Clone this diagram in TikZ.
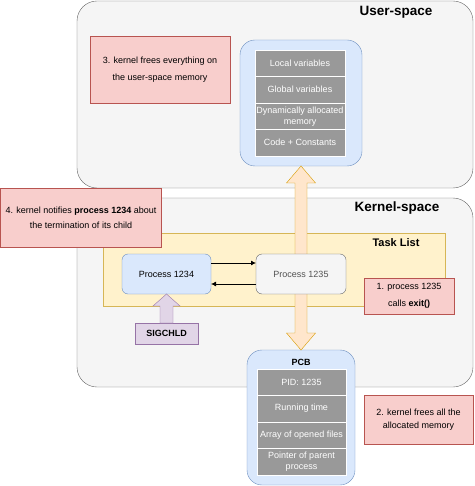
\documentclass[tikz,border=0pt]{standalone}
\usepackage{fontspec}
\setmainfont{Liberation Sans}
\usetikzlibrary{positioning,calc,arrows.meta}
\definecolor{rozfond}{HTML}{F8CECC}
\definecolor{rozlinie}{HTML}{B85450}
\definecolor{albfond}{HTML}{DAE8FC}
\definecolor{albalinie}{HTML}{6C8EBF}
\definecolor{galfond}{HTML}{FFF2CC}
\definecolor{gallinie}{HTML}{D6B656}
\definecolor{movfond}{HTML}{E1D5E7}
\definecolor{movlinie}{HTML}{9673A6}
\definecolor{grifond}{HTML}{F5F5F5}
\definecolor{grilinie}{HTML}{666666}
\definecolor{portfond}{HTML}{FFE6CC}
\definecolor{portlinie}{HTML}{D79B00}
\definecolor{celgri}{HTML}{999999}
\tikzset{
  spatiu/.style  = {draw=grilinie, fill=grifond, rounded corners=20pt, inner sep=0pt, outer sep=0pt},
  titlu/.style   = {font=\fontsize{13.5}{15}\selectfont\bfseries, inner sep=0pt},
  nota/.style    = {draw=rozlinie, fill=rozfond, align=center, inner sep=0pt, outer sep=0pt,
                    font=\fontsize{9}{17}\selectfont},
  proces/.style  = {draw, rounded corners=6pt, minimum width=89pt, minimum height=40pt,
                    inner sep=0pt, outer sep=0pt, font=\fontsize{9}{11}\selectfont},
  memorie/.style = {draw=albalinie, fill=albfond, rounded corners=15pt, inner sep=0pt, outer sep=0pt},
  celula/.style  = {draw=white, fill=celgri, text=white, align=center, minimum width=90pt,
                    minimum height=26.5pt, inner sep=0pt, outer sep=0pt,
                    font=\fontsize{9}{11}\selectfont},
  sageata/.style = {-{Latex[length=5pt,width=5pt]}, thick}
}
% sageata bloc: (de la) (la) semilatime corp, semilatime varf, stil
\newcommand{\sagsimpla}[5]{%
  \path[#5] let \p1=(#1), \p2=(#2) in
    (\x1-#3,\y1) -- (\x1-#3,\y2-12pt) -- (\x1-#4,\y2-12pt) -- (\x2,\y2)
    -- (\x1+#4,\y2-12pt) -- (\x1+#3,\y2-12pt) -- (\x1+#3,\y1) -- cycle;}
\begin{document}
\begin{tikzpicture}[x=1pt, y=-1pt]
  \useasboundingbox (0,0) rectangle (474,486);

  % cele doua spatii
  \node[spatiu, minimum width=396pt, minimum height=187pt] (user) at (275,94.5) {};
  \node[titlu] (usertitlu) at (396,12) {User-space};
  \node[spatiu, minimum width=396pt, minimum height=189pt] (kernel) at (275,292.5) {};
  \node[titlu] (kerneltitlu) at (397,208) {Kernel-space};

  % lista de procese
  \node[draw=gallinie, fill=galfond, minimum width=342pt, minimum height=73pt, inner sep=0pt] (lista) at (274,269.5) {};
  \node[font=\fontsize{11}{13}\selectfont\bfseries, inner sep=0pt] (listatitlu) at (396,243) {Task List};

  % memoria din user-space
  \node[memorie, minimum width=122pt, minimum height=126pt] (mem) at (301,103) {};
  \node[celula] (mem1) at (300,63.25) {Local variables};
  \node[celula, below=0pt of mem1] (mem2) {Global variables};
  \node[celula, below=0pt of mem2] (mem3) {Dynamically allocated\\memory};
  \node[celula, below=0pt of mem3] (mem4) {Code + Constants};

  % PCB
  \node[memorie, minimum width=108pt, minimum height=135pt] (pcb) at (301,417.5) {};
  \node[font=\fontsize{9}{11}\selectfont\bfseries, inner sep=0pt] (pcbtitlu) at (301,362) {PCB};
  \node[celula, minimum width=89pt] (pcb1) at (301.5,382) {PID: 1235};
  \node[celula, minimum width=89pt, below=0pt of pcb1] (pcb2) {Running time};
  \node[celula, minimum width=89pt, below=0pt of pcb2] (pcb3) {Array of opened files};
  \node[celula, minimum width=89pt, below=0pt of pcb3] (pcb4) {Pointer of parent\\process};

  % sageata dubla intre memorie si PCB
  \path[draw=portlinie, fill=portfond]
    (mem.south) -- ([xshift=14.5pt,yshift=-17pt]mem.south) -- ([xshift=6pt,yshift=-17pt]mem.south)
    -- ([xshift=6pt,yshift=17pt]pcb.north) -- ([xshift=14.5pt,yshift=17pt]pcb.north) -- (pcb.north)
    -- ([xshift=-14.5pt,yshift=17pt]pcb.north) -- ([xshift=-6pt,yshift=17pt]pcb.north)
    -- ([xshift=-6pt,yshift=-17pt]mem.south) -- ([xshift=-14.5pt,yshift=-17pt]mem.south) -- cycle;

  % procese
  \node[proces, draw=albalinie, fill=albfond] (p1234) at (166.5,274) {Process 1234};
  \node[proces, draw=grilinie, fill=grifond, text=grilinie!80!black, minimum width=90pt] (p1235) at (301,274) {Process 1235};
  \draw[sageata] ([yshift=11pt]p1234.east) -- ([yshift=11pt]p1235.west);
  \draw[sageata] ([yshift=-10pt]p1235.west) -- ([yshift=-10pt]p1234.east);

  % semnal
  \node[draw=movlinie, fill=movfond, minimum width=63pt, minimum height=21pt, inner sep=0pt, outer sep=0pt,
        font=\fontsize{9}{11}\selectfont\bfseries] (sig) at (166.5,333.5) {SIGCHLD};
  \sagsimpla{sig.north}{p1234.south}{6.5pt}{13.5pt}{draw=movlinie, fill=movfond}

  % pasii
  \node[nota, minimum width=90pt, minimum height=36pt] (pas1) at (409,296) {1. process 1235\\calls \textbf{exit()}};
  \node[nota, minimum width=109pt, minimum height=49pt, font=\fontsize{9}{13}\selectfont] (pas2) at (418.5,419.5) {2. kernel frees all the\\allocated memory};
  \node[nota, minimum width=140pt, minimum height=67pt] (pas3) at (160,69.5) {3. kernel frees everything on\\the user-space memory};
  \node[nota, minimum width=161pt, minimum height=59pt, font=\fontsize{9}{15}\selectfont] (pas4) at (81,217.5) {4. kernel notifies \textbf{process 1234} about\\the termination of its child};
\end{tikzpicture}
\end{document}
